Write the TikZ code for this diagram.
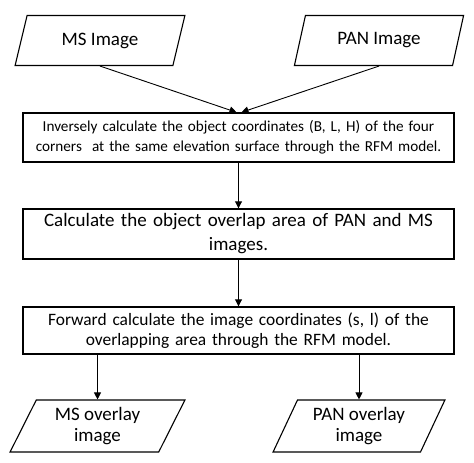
\documentclass[tikz,border=0pt]{standalone}
\usepackage{fontspec}
\setmainfont{Carlito}
\usepackage{tikz}
\usetikzlibrary{shapes.geometric}
\usetikzlibrary{arrows.meta}

\tikzset{
  iobox/.style={draw, line width=1.1pt, trapezium, trapezium left angle=68,
    trapezium right angle=112, trapezium stretches=true,
    minimum width=170pt, minimum height=50pt, inner sep=0pt,
    align=center, font=\fontsize{19}{21}\selectfont},
  procbox/.style={draw, line width=1.4pt, minimum width=431pt, inner sep=0pt,
    align=center, text width=429pt},
  flow/.style={line width=0.9pt, -{Triangle[length=7pt, width=7pt]}}
}

\begin{document}
\begin{tikzpicture}[x=1pt, y=-1pt]
\useasboundingbox (0,0) rectangle (474,463);

\node[iobox] (msin) at (100, 40.5) {MS Image};
\node[iobox] (panin) at (379, 40.5) {PAN Image};

\node[procbox, minimum height=49pt, font=\fontsize{15.2}{20}\selectfont] (invcalc) at (238.5, 137.5)
  {Inversely calculate the object coordinates (B, L, H) of the four\\corners\ \ at the same elevation surface through the RFM model.};
\node[procbox, minimum height=50pt, font=\fontsize{19}{24}\selectfont] (overlap) at (238.5, 234)
  {Calculate the object overlap area of PAN and MS\\images.};
\node[procbox, minimum height=47pt, font=\fontsize{17.4}{19.5}\selectfont] (fwdcalc) at (238.5, 330.5)
  {Forward calculate the image coordinates (s, l) of the\\overlapping area through the RFM model.};

\node[iobox, trapezium left angle=64, trapezium right angle=116, minimum width=175pt, minimum height=52pt]
  (msout) at (97.5, 426) {MS overlay\\image};
\node[iobox, trapezium left angle=64, trapezium right angle=116, minimum width=172pt, minimum height=52pt]
  (panout) at (359, 426) {PAN overlay\\image};

% arrows
\draw[flow] (msin.south) -- ([xshift=-2pt]invcalc.north);
\draw[flow] (panin.south) -- ([xshift=3pt]invcalc.north);
\draw[flow] (invcalc) -- (overlap);
\draw[flow] (overlap) -- (fwdcalc);
\draw[flow] (fwdcalc.south -| msout.north) -- (msout.north);
\draw[flow] (fwdcalc.south -| panout.north) -- (panout.north);
\end{tikzpicture}
\end{document}
